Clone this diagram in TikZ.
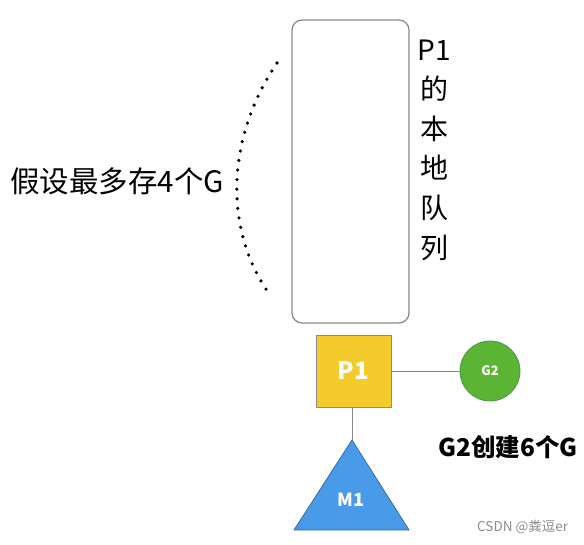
\documentclass[tikz,border=0pt]{standalone}
\usepackage{fontspec}
\setmainfont{Noto Sans CJK SC}
\newfontfamily\cjk{Noto Sans CJK SC}
\usetikzlibrary{shapes.geometric}
\definecolor{pyellow}{HTML}{F3CC2C}
\definecolor{ggreen}{HTML}{5CB434}
\definecolor{mblue}{HTML}{4A9AEA}
\definecolor{edgegray}{HTML}{8A8A8A}
\tikzset{
  queuebox/.style={draw=edgegray,line width=1.3pt,rounded corners=10pt},
  pbox/.style={draw=edgegray,line width=1pt,fill=pyellow,text=white,font=\bfseries\fontsize{24}{26}\selectfont,minimum width=75pt,minimum height=72pt,inner sep=0pt},
  gcirc/.style={circle,draw=green!40!black!70,line width=0.8pt,fill=ggreen,text=white,font=\bfseries\fontsize{13}{15}\selectfont,minimum size=60pt,inner sep=0pt},
  conn/.style={draw=edgegray,line width=1pt},
  lbl/.style={font=\fontsize{28}{30}\selectfont,inner sep=0pt},
}
\begin{document}
\begin{tikzpicture}[x=1pt,y=-1pt]
\useasboundingbox (0,0) rectangle (584,544);
% local queue
\draw[queuebox] (292,20) rectangle (409,323);
% vertical label
\node[lbl,anchor=center] (t1) at (434,50) {P1};
\node[lbl] (t2) at (434,89) {的};
\node[lbl] (t3) at (434,129) {本};
\node[lbl] (t4) at (434,168) {地};
\node[lbl] (t5) at (434,208) {队};
\node[lbl] (t6) at (434,248) {列};
% left label
\node[font=\fontsize{29.5}{32}\selectfont,anchor=west,inner sep=0pt] (cap) at (10,181) {假设最多存4个G};
% dotted arc
\draw[line width=3.6pt,line cap=round,dash pattern=on 0pt off 9.6pt] (277,63) .. controls (225,140) and (225,230) .. (268,292);
% P1
\node[pbox] (p1) at (353.5,371) {P1};
% G2
\node[gcirc] (g2) at (490,371) {G2};
% M1 triangle
\coordinate (apex) at (352,440);
\draw[draw=mblue!70!black,line width=0.8pt,fill=mblue,line join=miter] (apex) -- (409,530) -- (294,530) -- cycle;
\node[text=white,font=\bfseries\fontsize{18}{20}\selectfont] (m1) at (351,500) {M1};
% connectors
\draw[conn] (p1.east) -- (g2.west);
\draw[conn] (p1.south -| apex) -- (apex);
% G2 label
\node[font=\bfseries\fontsize{24.5}{26}\selectfont,anchor=west,inner sep=0pt] (g2l) at (438,447) {G2创建6个G};
% watermark
\node[font=\fontsize{13.5}{15}\selectfont,text=black!45,anchor=west,inner sep=0pt] (wm) at (477,527) {CSDN @粪逗er};
\end{tikzpicture}
\end{document}
